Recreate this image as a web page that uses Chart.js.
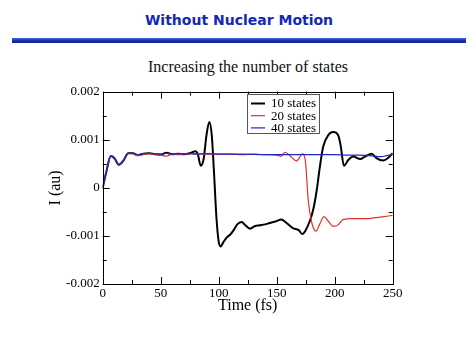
<!DOCTYPE html>
<html>
<head>
<meta charset="utf-8">
<script src="https://cdn.jsdelivr.net/npm/chart.js@4.4.0/dist/chart.umd.min.js"></script>
<style>
  html, body { margin: 0; padding: 0; background: #fff; }
  #wrap { position: relative; width: 474px; height: 355px; overflow: hidden; }
  #title { position: absolute; left: 0; width: 478px; top: 12px; text-align: center;
    font-family: "DejaVu Sans", sans-serif; font-weight: bold; font-size: 14px; color: #1428b4; }
  #bar { position: absolute; left: 12px; width: 454px; top: 38px; height: 5px;
    background: linear-gradient(#4463d8, #1a2fa8 55%, #14238a); }
  #sub { position: absolute; left: 0; width: 496px; top: 58px; text-align: center;
    font-family: "Liberation Serif", serif; font-size: 16px; color: #111; }
  canvas { position: absolute; left: 0; top: 0; }
</style>
</head>
<body>
<div id="wrap">
  <div id="title">Without Nuclear Motion</div>
  <div id="bar"></div>
  <div id="sub">Increasing the number of states</div>
  <canvas id="c" width="474" height="355"></canvas>
</div>
<script>
// ---- data ----
const seriesLabels = ['10 states', '20 states', '40 states'];

const time10 = [0, 3, 7, 10, 14, 18, 22, 26, 30, 35, 40, 45, 50, 55, 60, 65, 70, 75, 80, 82, 84.5, 87, 89.5, 91.9, 94, 96, 98, 100, 101.7, 104, 107, 110, 112.6, 116, 119.8, 123, 127, 131, 135.6, 140, 144, 149, 154, 158, 164, 169, 172, 175, 178.7, 181.6, 184.5, 187, 190, 194.6, 198.8, 202.9, 205, 208, 211.7, 216, 222, 226, 231.9, 236, 241.9, 246, 250];
const states10 = [0, 0.00032, 0.00066, 0.00062, 0.00048, 0.00057, 0.00072, 0.00072, 0.00068, 0.00071, 0.00072, 0.0007, 0.00069, 0.00073, 0.0007, 0.00071, 0.0007, 0.00072, 0.00076, 0.0007, 0.00046, 0.0006, 0.0011, 0.00137, 0.0011, 0.0003, -0.0006, -0.00112, -0.00122, -0.00113, -0.00103, -0.00097, -0.00089, -0.00076, -0.00071, -0.00078, -0.00085, -0.0008, -0.00078, -0.00076, -0.00073, -0.0007, -0.00066, -0.00072, -0.00084, -0.00088, -0.00096, -0.00088, -0.00068, -0.00044, -0.00005, 0.0004, 0.00085, 0.0011, 0.00116, 0.0011, 0.0009, 0.00046, 0.00058, 0.00065, 0.0006, 0.00065, 0.00071, 0.00062, 0.00057, 0.00062, 0.00072];

const time20 = [0, 3, 7, 10, 14, 18, 22, 26, 30, 35, 40, 45, 50, 55, 60, 65, 70, 80, 90, 100, 110, 120, 130, 140, 150, 154, 157, 161, 167, 172.5, 175, 177, 180, 184, 187, 190.8, 194, 198.8, 203, 207, 215, 227, 235, 243, 250];
const states20 = [0, 0.00032, 0.00066, 0.00062, 0.00048, 0.00057, 0.00072, 0.00071, 0.00067, 0.00069, 0.00071, 0.0007, 0.00068, 0.00066, 0.0007, 0.00069, 0.0007, 0.00071, 0.0007, 0.0007, 0.0007, 0.00069, 0.0007, 0.00069, 0.00068, 0.00066, 0.00074, 0.00068, 0.00056, 0.00071, 0.0005, -0.0002, -0.0007, -0.0009, -0.00076, -0.0006, -0.00068, -0.0008, -0.00077, -0.00066, -0.00064, -0.00064, -0.00062, -0.0006, -0.00057];

const time40 = [0, 3, 7, 10, 14, 18, 22, 26, 30, 35, 40, 45, 50, 55, 60, 65, 70, 75, 80, 90, 100, 120, 140, 160, 180, 200, 210, 220, 230, 240, 245, 250];
const states40 = [0, 0.00032, 0.00066, 0.00062, 0.00048, 0.00057, 0.00072, 0.00072, 0.00069, 0.00071, 0.00072, 0.00071, 0.0007, 0.00072, 0.0007, 0.00071, 0.0007, 0.00071, 0.0007, 0.00071, 0.0007, 0.0007, 0.00069, 0.00069, 0.00069, 0.00069, 0.00068, 0.00068, 0.00067, 0.00065, 0.00067, 0.00069];

const xTicks = [0, 50, 100, 150, 200, 250];
const xTickLabels = ['0', '50', '100', '150', '200', '250'];
const xMinorTicks = [25, 75, 125, 175, 225];
const yTicks = [-0.002, -0.001, 0, 0.001, 0.002];
const yTickLabels = ['-0.002', '-0.001', '0', '0.001', '0.002'];
const yMinorTicks = [-0.0015, -0.0005, 0.0005, 0.0015];

const xTitle = 'Time (fs)';
const yTitle = 'I (au)';

// ---- chart ----
const toPts = (xs, ys) => xs.map((x, i) => ({ x: x, y: ys[i] }));

const serif = "'Liberation Serif', serif";

const frame = {
  id: 'frame',
  afterDraw(chart) {
    const { ctx, chartArea: a, scales } = chart;
    const xs = scales.x, ys = scales.y;
    ctx.save();
    ctx.strokeStyle = '#000';
    ctx.lineWidth = 1;
    ctx.strokeRect(Math.round(a.left) + 0.5, Math.round(a.top) + 0.5,
      Math.round(a.right - a.left), Math.round(a.bottom - a.top));
    const maj = 7, min = 4;
    ctx.beginPath();
    const xt = (v, len) => {
      const p = Math.round(xs.getPixelForValue(v)) + 0.5;
      ctx.moveTo(p, a.bottom); ctx.lineTo(p, a.bottom - len);
      ctx.moveTo(p, a.top); ctx.lineTo(p, a.top + len);
    };
    const yt = (v, len) => {
      const p = Math.round(ys.getPixelForValue(v)) + 0.5;
      ctx.moveTo(a.left, p); ctx.lineTo(a.left + len, p);
      ctx.moveTo(a.right, p); ctx.lineTo(a.right - len, p);
    };
    xTicks.forEach(v => xt(v, maj));
    xMinorTicks.forEach(v => xt(v, min));
    yTicks.forEach(v => yt(v, maj));
    yMinorTicks.forEach(v => yt(v, min));
    ctx.stroke();

    // legend box
    const bx = 247, by = 94, bw = 72, bh = 39;
    ctx.fillStyle = '#fff';
    ctx.fillRect(bx, by, bw, bh);
    ctx.strokeStyle = '#555';
    ctx.strokeRect(bx + 0.5, by + 0.5, bw, bh);
    ctx.font = "13px 'Liberation Serif', serif";
    ctx.textBaseline = 'middle';
    ctx.textAlign = 'left';
    chart.data.datasets.forEach((ds, i) => {
      const yy = by + 9.5 + i * 12.2;
      ctx.strokeStyle = ds.borderColor;
      ctx.lineWidth = ds.borderWidth;
      ctx.beginPath();
      ctx.moveTo(bx + 4, yy); ctx.lineTo(bx + 18, yy);
      ctx.stroke();
      ctx.fillStyle = '#000';
      ctx.fillText(ds.label, bx + 24, yy + 0.5);
    });
    ctx.restore();
  }
};

new Chart(document.getElementById('c'), {
  type: 'line',
  data: {
    datasets: [
      { label: seriesLabels[0], data: toPts(time10, states10), borderColor: '#000000', borderWidth: 2, order: 2 },
      { label: seriesLabels[1], data: toPts(time20, states20), borderColor: '#e3312d', borderWidth: 1.2, order: 1 },
      { label: seriesLabels[2], data: toPts(time40, states40), borderColor: '#2222c8', borderWidth: 1.2, order: 0 }
    ]
  },
  options: {
    responsive: false,
    animation: false,
    events: [],
    layout: { padding: { left: 0, right: 81.3, top: 91.7, bottom: 39.4 } },
    elements: {
      point: { radius: 0 },
      line: { cubicInterpolationMode: 'monotone', fill: false }
    },
    plugins: { legend: { display: false }, tooltip: { enabled: false }, title: { display: false } },
    scales: {
      x: {
        type: 'linear', min: 0, max: 250,
        afterFit: s => { s.height = 31.6; },
        afterBuildTicks: s => { s.ticks = xTicks.map(v => ({ value: v })); },
        grid: { display: false, drawTicks: false },
        border: { display: false },
        ticks: { padding: 2, color: '#000', font: { family: serif, size: 13 },
          maxRotation: 0, autoSkip: false,
          callback: (v, i) => xTickLabels[i] },
        title: { display: true, text: xTitle, color: '#000', padding: 0,
          font: { family: serif, size: 16 } }
      },
      y: {
        type: 'linear', min: -0.002, max: 0.002,
        afterFit: s => { s.width = 102.7; },
        afterBuildTicks: s => { s.ticks = yTicks.map(v => ({ value: v })); },
        grid: { display: false, drawTicks: false },
        border: { display: false },
        ticks: { padding: 3, color: '#000', font: { family: serif, size: 13 },
          autoSkip: false,
          callback: (v, i) => yTickLabels[i] },
        title: { display: true, text: yTitle, color: '#000', padding: { top: 46, bottom: 0 },
          font: { family: serif, size: 16 } }
      }
    }
  },
  plugins: [frame]
});
</script>
</body>
</html>
